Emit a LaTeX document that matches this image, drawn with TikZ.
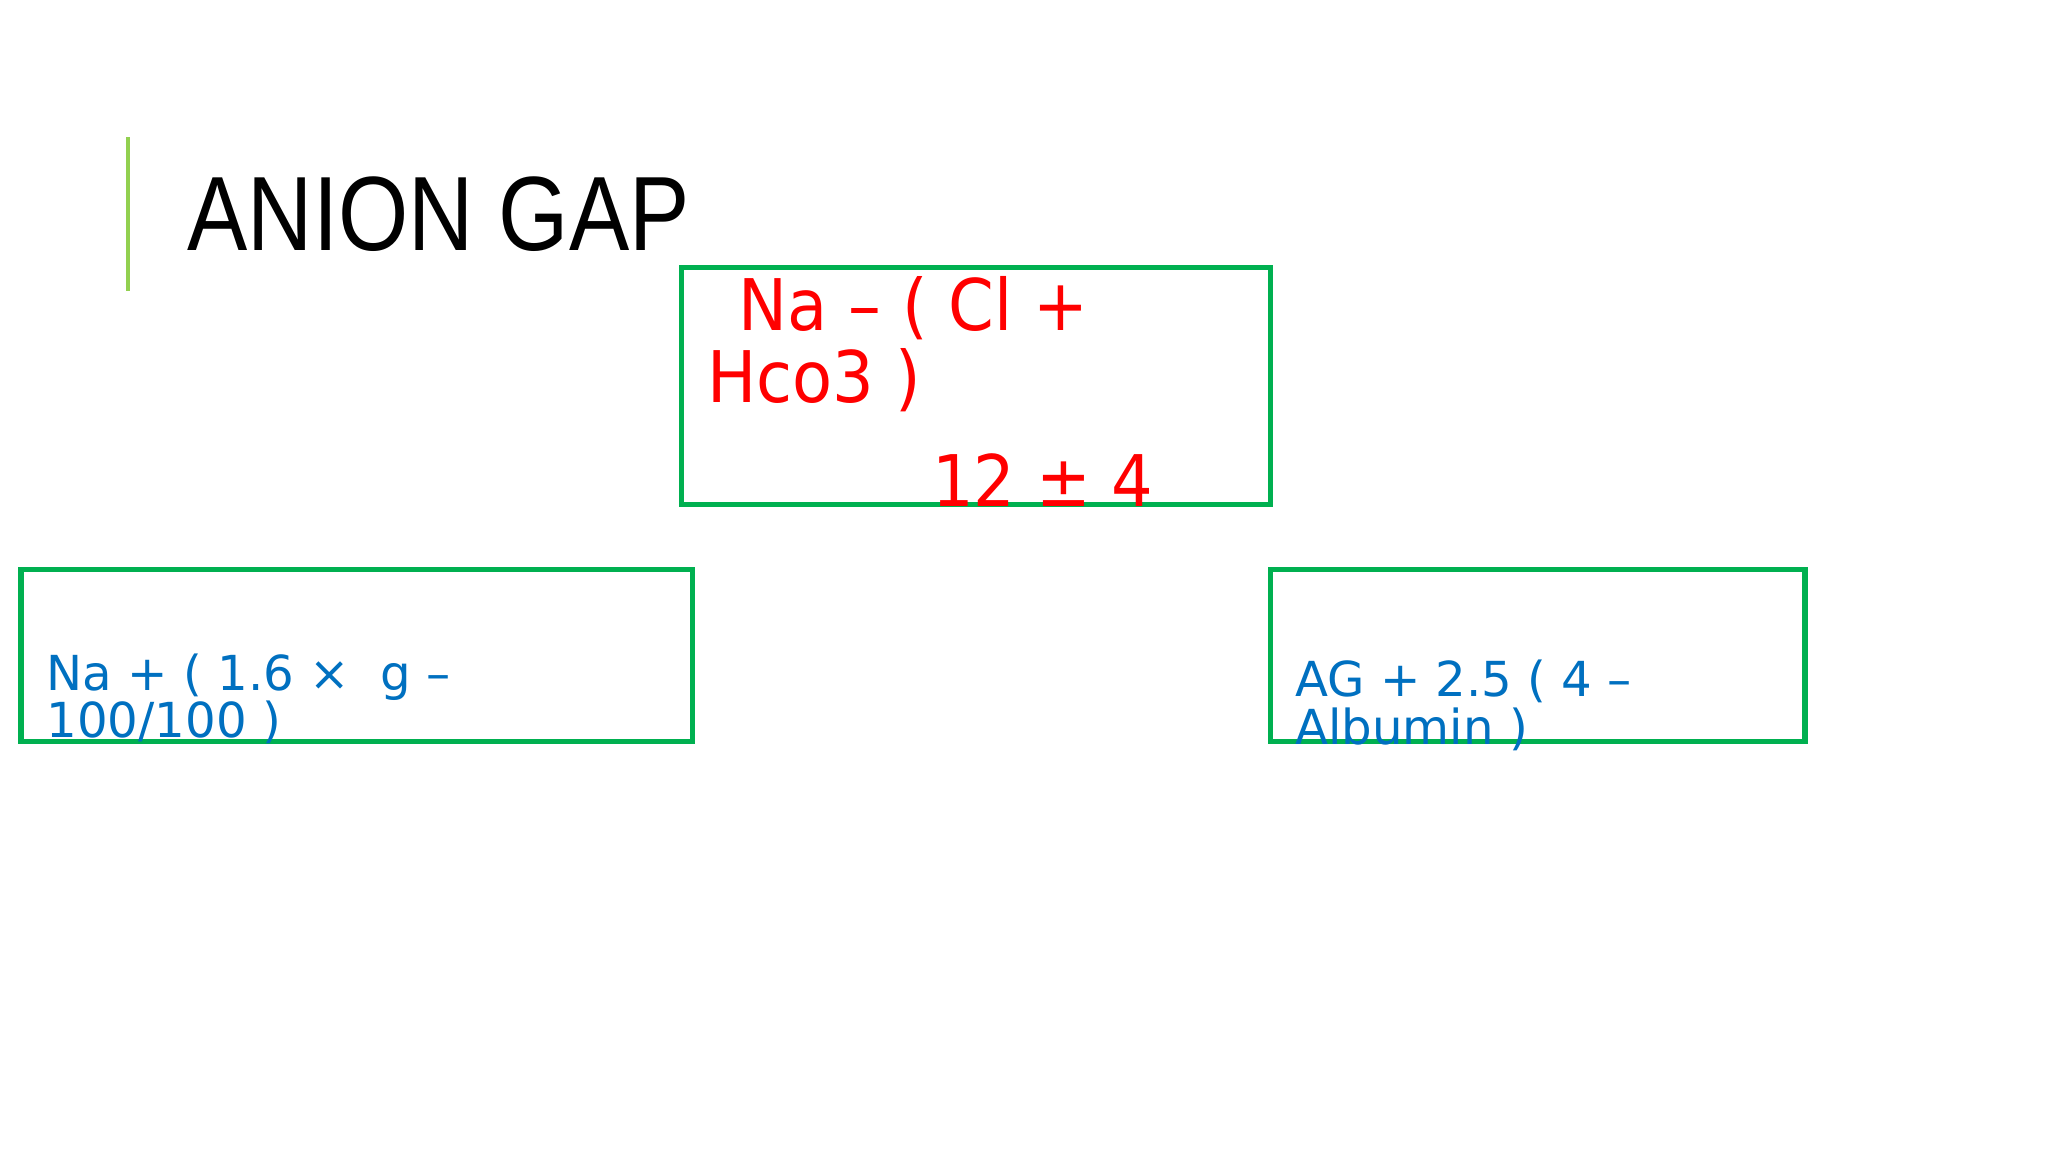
\documentclass[tikz,border=0pt]{standalone}
\usepackage{fontspec}
\usepackage{graphicx}
\setmainfont{DejaVu Sans}
\newfontfamily\titlefont{Liberation Sans}
\definecolor{boxgreen}{HTML}{00B050}
\definecolor{barg}{HTML}{92D050}
\definecolor{fblue}{HTML}{0070C0}
\begin{document}
\begin{tikzpicture}[x=0.01cm,y=-0.01cm,
  gbox/.style={draw=boxgreen,line width=0.04cm},
  redtxt/.style={text=red,anchor=base west,inner sep=0,font=\fontsize{15.5pt}{18pt}\selectfont},
  bluetxt/.style={text=fblue,anchor=base west,inner sep=0,font=\fontsize{10.5pt}{12pt}\selectfont}]
\useasboundingbox[fill=white] (0,0) rectangle (1568,882);
\draw[barg,line width=0.03cm] (98,105) -- (98,223);
\node[anchor=base west,inner sep=0,font=\titlefont\fontsize{23pt}{26pt}\selectfont] (title) at (143,192) {\scalebox{0.855}[1]{ANION GAP}};
\draw[gbox] (522,205) rectangle (973,386);
\node[redtxt] (r1) at (565,253) {\scalebox{0.92}[1]{Na – ( Cl +}};
\node[redtxt] (r2) at (541,308) {\scalebox{0.92}[1]{Hco3 )}};
\node[redtxt] (r3) at (713,388) {\scalebox{0.92}[1]{12 ± 4}};
\draw[gbox] (16,436) rectangle (530,568);
\node[bluetxt] (b1) at (35,529) {Na + ( 1.6 ×\ \ g –};
\node[bluetxt] (b2) at (35,565) {100/100 )};
\draw[gbox] (973,436) rectangle (1382,568);
\node[bluetxt] (c1) at (991,533) {AG + 2.5 ( 4 –};
\node[bluetxt] (c2) at (991,570) {Albumin )};
\end{tikzpicture}
\end{document}
